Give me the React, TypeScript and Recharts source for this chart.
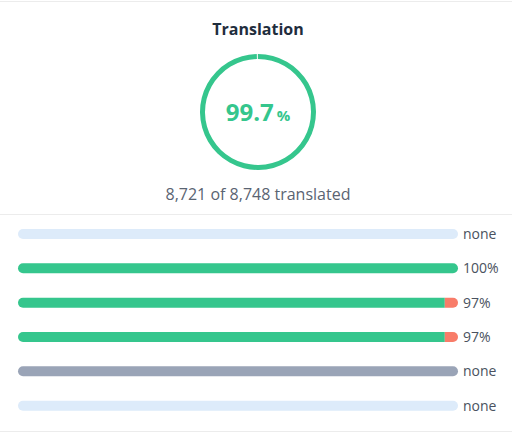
import { BarChart, Bar, XAxis, YAxis, PieChart, Pie, Cell } from 'recharts';

const translatedCount = 8721;
const totalCount = 8748;

const rowLabels = ['none', '100%', '97%', '97%', 'none', 'none'];
const doneValues = [0, 100, 97, 97, 0, 0];
const failedValues = [0, 0, 3, 3, 0, 0];
const pendingValues = [0, 0, 0, 0, 100, 0];
const emptyValues = [100, 0, 0, 0, 0, 100];

const rows = rowLabels.map((label, i) => ({
  label,
  done: doneValues[i],
  failed: failedValues[i],
  pending: pendingValues[i],
  empty: emptyValues[i],
}));

const ringData = [
  { name: 'translated', value: translatedCount },
  { name: 'untranslated', value: totalCount - translatedCount },
];

const GREEN = '#35c68d';
const font = '"Open Sans", "Noto Sans", sans-serif';

// rounds only the outer ends of a stacked row
const Segment = (props: any) => {
  const { x, y, width, height, fill, value } = props;
  if (!width || width <= 0) return null;
  const r = height / 2;
  const lo = Array.isArray(value) ? value[0] : 0;
  const hi = Array.isArray(value) ? value[1] : 100;
  const rl = lo === 0 ? r : 0;
  const rr = hi >= 100 ? r : 0;
  const d = `M${x + rl},${y} H${x + width - rr} A${rr},${rr} 0 0 1 ${x + width - rr},${y + height} H${x + rl} A${rl},${rl} 0 0 1 ${x + rl},${y} Z`;
  return <path d={d} fill={fill} />;
};

const App = () => {
  const pct = ((translatedCount / totalCount) * 100).toFixed(1);
  return (
    <div style={{ position: 'absolute', left: 0, top: 0, width: 512, height: 433, background: '#fff', fontFamily: font }}>
      <div style={{ position: 'absolute', left: 0, top: 1, width: 512, height: 1, background: '#ececec' }} />
      <div style={{ position: 'absolute', left: 0, top: 18, width: 516, textAlign: 'center', fontSize: 16, fontWeight: 700, color: '#1f2d3d' }}>
        Translation
      </div>
      <div style={{ position: 'absolute', left: 0, top: 0 }}>
        <PieChart width={512} height={200} margin={{ top: 0, right: 0, bottom: 0, left: 0 }}>
          <Pie
            data={ringData}
            dataKey="value"
            cx={258}
            cy={112}
            innerRadius={53}
            outerRadius={58}
            startAngle={90}
            endAngle={-270}
            stroke="none"
            isAnimationActive={false}
          >
            <Cell fill={GREEN} />
            <Cell fill="#e6f4ee" />
          </Pie>
        </PieChart>
      </div>
      <div style={{ position: 'absolute', left: 0, top: 95, width: 516, textAlign: 'center', color: GREEN, fontWeight: 700 }}>
        <span style={{ fontSize: 24 }}>{pct}</span>
        <span style={{ fontSize: 15, marginLeft: 3 }}>%</span>
      </div>
      <div style={{ position: 'absolute', left: 0, top: 183, width: 516, textAlign: 'center', fontSize: 16, color: '#5a6472' }}>
        {translatedCount.toLocaleString('en-US')} of {totalCount.toLocaleString('en-US')} translated
      </div>
      <div style={{ position: 'absolute', left: 0, top: 214, width: 512, height: 1, background: '#ececec' }} />
      <div style={{ position: 'absolute', left: 0, top: 217 }}>
        <BarChart width={512} height={206} data={rows} layout="vertical" margin={{ top: 0, right: 0, bottom: 0, left: 18 }} barSize={10}>
          <XAxis type="number" domain={[0, 100]} hide />
          <YAxis
            type="category"
            dataKey="label"
            orientation="right"
            width={54}
            axisLine={false}
            tickLine={false}
            tickSize={0}
            tickMargin={5}
            interval={0}
            tick={{ fontSize: 14, fill: '#4a5260', fontFamily: font }}
          />
          <Bar dataKey="done" stackId="a" fill={GREEN} shape={<Segment />} isAnimationActive={false} />
          <Bar dataKey="failed" stackId="a" fill="#f87c69" shape={<Segment />} isAnimationActive={false} />
          <Bar dataKey="pending" stackId="a" fill="#9aa4b7" shape={<Segment />} isAnimationActive={false} />
          <Bar dataKey="empty" stackId="a" fill="#ddebfa" shape={<Segment />} isAnimationActive={false} />
        </BarChart>
      </div>
      <div style={{ position: 'absolute', left: 0, top: 431, width: 512, height: 1, background: '#ececec' }} />
    </div>
  );
};

export default App;
